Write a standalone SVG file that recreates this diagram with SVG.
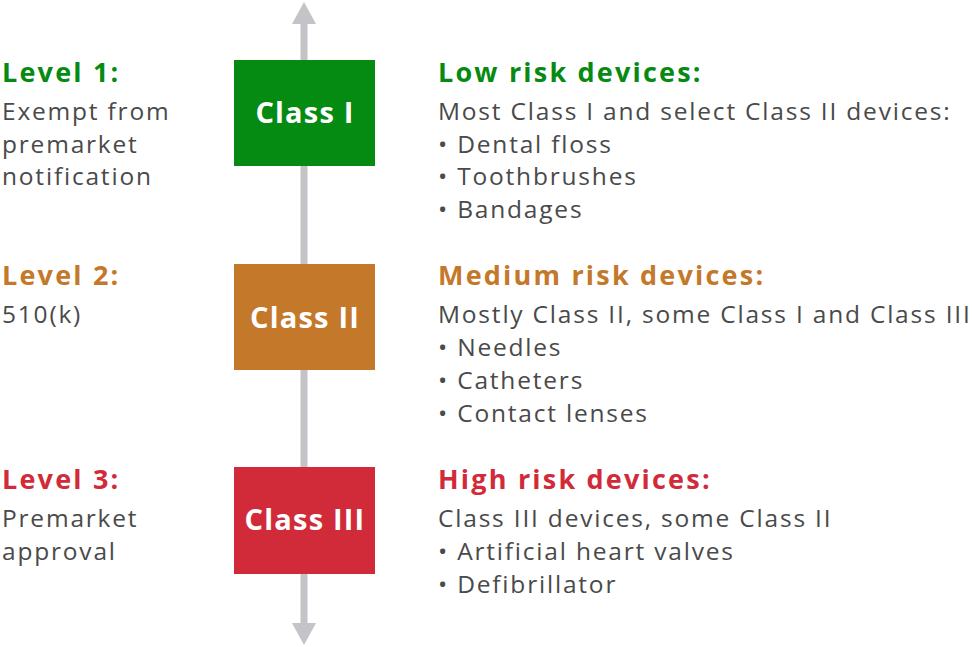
<svg xmlns="http://www.w3.org/2000/svg" width="972" height="647" viewBox="0 0 972 647">
<style>
text{font-family:"Open Sans",Lato,"Liberation Sans",sans-serif}
.h{font-size:27px;font-weight:bold;letter-spacing:2.2px}
.b{font-size:24.5px;fill:#4a4a4a;letter-spacing:1.8px}
.c{font-size:29px;font-weight:bold;fill:#fff;text-anchor:middle;letter-spacing:1.2px}
.g{fill:#058a12}.o{fill:#c4782a}.r{fill:#d12b3a}
</style>
<g id="connectors">
<line x1="304" y1="22" x2="304" y2="626" stroke="#c4c3c8" stroke-width="7"/>
<polygon points="304,2 292,24 316,24" fill="#c4c3c8"/>
<polygon points="304,645 292,623 316,623" fill="#c4c3c8"/>
</g>
<g id="class1"><rect x="234" y="60" width="141" height="106" class="g"/><text x="305" y="123" class="c">Class I</text></g>
<g id="class2"><rect x="234" y="264" width="141" height="106" class="o"/><text x="305" y="328" class="c">Class II</text></g>
<g id="class3"><rect x="234" y="467" width="141" height="107" class="r"/><text x="305" y="530" class="c">Class III</text></g>
<g id="level1"><text x="2" y="82" class="h g">Level 1:</text>
<text class="b"><tspan x="2" y="120">Exempt from</tspan><tspan x="2" y="153">premarket</tspan><tspan x="2" y="185">notification</tspan></text></g>
<g id="level2"><text x="2" y="285" class="h o">Level 2:</text>
<text class="b"><tspan x="2" y="323">510(k)</tspan></text></g>
<g id="level3"><text x="2" y="489" class="h r">Level 3:</text>
<text class="b"><tspan x="2" y="527">Premarket</tspan><tspan x="2" y="560">approval</tspan></text></g>
<g id="low"><text x="438" y="82" class="h g">Low risk devices:</text>
<text class="b"><tspan x="438" y="120">Most Class I and select Class II devices:</tspan><tspan x="438" y="153">• Dental floss</tspan><tspan x="438" y="185">• Toothbrushes</tspan><tspan x="438" y="218">• Bandages</tspan></text></g>
<g id="medium"><text x="438" y="285" class="h o">Medium risk devices:</text>
<text class="b"><tspan x="438" y="323">Mostly Class II, some Class I and Class III</tspan><tspan x="438" y="356">• Needles</tspan><tspan x="438" y="389">• Catheters</tspan><tspan x="438" y="422">• Contact lenses</tspan></text></g>
<g id="high"><text x="438" y="489" class="h r">High risk devices:</text>
<text class="b"><tspan x="438" y="527">Class III devices, some Class II</tspan><tspan x="438" y="560">• Artificial heart valves</tspan><tspan x="438" y="593">• Defibrillator</tspan></text></g>
</svg>
